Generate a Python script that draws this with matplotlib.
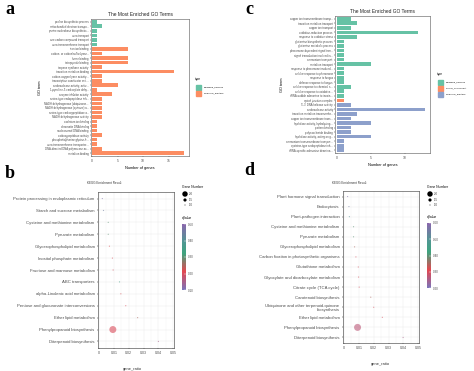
import matplotlib
matplotlib.use("Agg")
import matplotlib.pyplot as plt
import numpy as np
from matplotlib.colors import LinearSegmentedColormap, Normalize
from matplotlib.cm import ScalarMappable

plt.rcParams['font.family'] = ['Liberation Sans', 'DejaVu Sans']

W, H = 474, 371

# ---- panel a: GO terms (top to bottom) ----
a_terms = ["proline biosynthetic process", "mitochondrial electron transpo...",
           "purine nucleobase biosynthetic...", "urea transport",
           "one-carbon compound transport", "urea transmembrane transport",
           "iron ion binding", "carbon- or carbon/sulfur-lyase...", "heme binding",
           "tetrapyrrole binding", "terpene synthase activity",
           "transition metal ion binding", "carbon-oxygen lyase activity...",
           "transcription coactivator acti...", "endonuclease activity, activ...",
           "1-pyrroline-5-carboxylate dehy...", "enzyme inhibitor activity",
           "serine-type endopeptidase inh...", "NADH dehydrogenase (ubiquinone...",
           "NADH dehydrogenase (quinone) a...", "serine-type carboxypeptidase a...",
           "NADH dehydrogenase activity", "cadmium ion binding",
           "chromatin DNA binding", "nucleosomal DNA binding",
           "carboxypeptidase activity", "phosphatidylserine glycine-fr...",
           "urea transmembrane transporter...", "DNA-directed DNA polymerase ac...",
           "metal ion binding"]
a_counts = [1, 2, 1, 1, 1, 1, 7, 2, 7, 7, 2, 16, 2, 2, 5, 1, 4, 2, 2, 2, 2, 2,
            1, 1, 1, 2, 1, 1, 2, 18]
a_types = ["biological_process"] * 6 + ["molecular_function"] * 24

# ---- panel c: GO terms ----
c_terms = ["copper ion transmembrane transp...", "transition metal ion transport",
           "copper ion transport", "oxidation-reduction process",
           "response to oxidative stress", "glutamine biosynthetic process",
           "glutamine metabolic process", "pheromone-dependent signal tran...",
           "signal transduction involved in...", "ammonium transport",
           "metal ion transport", "response to pheromone involved...",
           "cellular response to pheromone", "response to fungus",
           "defense response to fungus", "cellular response to chemical s...",
           "cellular response to oxidative...", "tRNA wobble adenosine to inosin...",
           "apical junction complex", "5'-3' DNA helicase activity",
           "endonuclease activity", "transition metal ion transmembr...",
           "copper ion transmembrane trans...", "hydrolase activity, hydrolyzing...",
           "pattern binding", "polysaccharide binding",
           "hydrolase activity, acting on g...", "ammonium transmembrane transpor...",
           "cysteine-type endopeptidase inh...", "tRNA-specific adenosine deamina..."]
c_counts = [2, 3, 2, 12, 3, 1, 1, 1, 1, 1, 5, 1, 1, 1, 1, 2, 1, 1, 1, 2, 13, 3,
            2, 5, 2, 2, 5, 1, 1, 1]
c_types = (["biological_process"] * 18 + ["cellular_component"]
           + ["molecular_function"] * 11)

type_colors = {"biological_process": "#66c2a5", "cellular_component": "#fc8d62",
               "molecular_function": "#8da0cb"}
a_colors = {"biological_process": "#66c2a5", "molecular_function": "#fc8d62"}

# ---- panel b: KEGG ----
b_paths = ["Protein processing in endoplasmic reticulum", "Starch and sucrose metabolism",
           "Cysteine and methionine metabolism", "Pyruvate metabolism",
           "Glycerophospholipid metabolism", "Inositol phosphate metabolism",
           "Fructose and mannose metabolism", "ABC transporters",
           "alpha-Linolenic acid metabolism", "Pentose and glucuronate interconversions",
           "Ether lipid metabolism", "Phenylpropanoid biosynthesis",
           "Diterpenoid biosynthesis"]
b_ratio = [0.0022, 0.003, 0.0062, 0.0062, 0.007, 0.009, 0.0095, 0.0138, 0.0147,
           0.018, 0.026, 0.0093, 0.040]
b_genes = [1, 1, 1, 1, 1, 1, 1, 1, 1, 1, 1, 2, 1]
b_q = [0.48, 0.45, 0.3, 0.3, 0.22, 0.2, 0.2, 0.35, 0.22, 0.2, 0.25, 0.2, 0.15]

# ---- panel d: KEGG ----
d_paths = ["Plant hormone signal transduction", "Endocytosis",
           "Plant-pathogen interaction", "Cysteine and methionine metabolism",
           "Pyruvate metabolism", "Glycerophospholipid metabolism",
           "Carbon fixation in photosynthetic organisms", "Glutathione metabolism",
           "Glyoxylate and dicarboxylate metabolism", "Citrate cycle (TCA cycle)",
           "Carotenoid biosynthesis",
           "Ubiquinone and other terpenoid-quinone\nbiosynthesis",
           "Ether lipid metabolism", "Phenylpropanoid biosynthesis",
           "Diterpenoid biosynthesis"]
d_ratio = [0.0024, 0.0033, 0.0036, 0.0064, 0.0064, 0.0071, 0.008, 0.0096, 0.0098,
           0.0102, 0.018, 0.020, 0.0258, 0.0091, 0.0398]
d_genes = [1, 1, 1, 1, 1, 1, 1, 1, 1, 1, 1, 1, 1, 2, 1]
d_q = [0.58, 0.55, 0.5, 0.4, 0.4, 0.35, 0.3, 0.3, 0.3, 0.3, 0.35, 0.3, 0.3, 0.27, 0.25]

qcmap = LinearSegmentedColormap.from_list(
    "q", [(0.0, "#7b74ba"), (0.28, "#e4474f"), (0.55, "#3fa47e"),
          (0.72, "#4f9892"), (1.0, "#8a67ad")])


def box(x0, y0, x1, y1):
    return [x0 / W, 1 - y1 / H, (x1 - x0) / W, (y1 - y0) / H]


def size_of(n):
    d = 1.2 + (np.asarray(n) - 1) * 5.8
    return (d * 0.72) ** 2


fig = plt.figure(figsize=(W / 100, H / 100), dpi=100)
fig.patch.set_facecolor("white")


def bar_panel(rect, terms, counts, types, colors, xlim, title, lsize):
    ax = fig.add_axes(box(*rect))
    n = len(terms)
    y = np.arange(n)[::-1]
    ax.barh(y, counts, height=0.8, color=[colors[t] for t in types])
    ax.set_ylim(-0.6, n - 0.4)
    ax.set_xlim(*xlim)
    ax.set_yticks(y)
    ax.set_yticklabels(terms, fontsize=lsize, color="#4d4d4d")
    ax.set_xticks([0, 5, 10, 15] if xlim[1] > 15 else [0, 5, 10])
    ax.tick_params(axis="x", labelsize=2.4, colors="#4d4d4d", length=1, width=0.3, pad=1)
    ax.tick_params(axis="y", length=1, width=0.3, pad=0.6)
    for s in ax.spines.values():
        s.set_color("#555555")
        s.set_linewidth(0.4)
    ax.set_title(title, fontsize=3.5, pad=2, color="#222222")
    ax.set_xlabel("Number of genes", fontsize=2.8, labelpad=2.5)
    ax.set_ylabel("GO term", fontsize=2.8, labelpad=1.5)
    return ax


bar_panel((91, 19, 189, 156), a_terms, a_counts, a_types, a_colors, (-0.2, 19),
          "The Most Enriched GO Terms", 2.0)
bar_panel((335, 16, 430, 153), c_terms, c_counts, c_types, type_colors, (-0.3, 13.7),
          "The Most Enriched GO Terms", 2.0)


def type_legend(x, y, labels, colors):
    fig.text(x / W, 1 - y / H, "type", fontsize=2.3, va="center")
    for i, lab in enumerate(labels):
        yy = y + 8.5 + i * 6
        fig.patches.append(plt.Rectangle(((x + 1) / W, 1 - (yy + 2.6) / H), 5 / W, 5.2 / H,
                                         transform=fig.transFigure, color=colors[lab],
                                         figure=fig))
        fig.text((x + 9) / W, 1 - yy / H, lab, fontsize=1.7, va="center")


type_legend(195, 79, ["biological_process", "molecular_function"], a_colors)
type_legend(437, 74, ["biological_process", "cellular_component", "molecular_function"],
            type_colors)


def dot_panel(rect, paths, ratio, genes, q, qlim, cbar_rect, leg_xy, title_xy, xlab_xy):
    ax = fig.add_axes(box(*rect))
    n = len(paths)
    y = np.arange(n)[::-1]
    norm = Normalize(*qlim)
    ax.scatter(ratio, y, s=size_of(genes), c=q, cmap=qcmap, norm=norm,
               alpha=0.6, edgecolors="none", zorder=3)
    ax.set_ylim(-0.55, n - 0.45)
    ax.set_xlim(-0.0007, 0.0505)
    ax.set_yticks(y)
    ax.set_yticklabels(paths, fontsize=3.05, color="#4d4d4d", linespacing=1.1)
    ax.set_xticks([0, 0.01, 0.02, 0.03, 0.04, 0.05])
    ax.set_xticklabels(["0", "0.01", "0.02", "0.03", "0.04", "0.05"])
    ax.set_xticks([0.005, 0.015, 0.025, 0.035, 0.045], minor=True)
    ax.tick_params(axis="x", labelsize=2.6, colors="#4d4d4d", length=1, width=0.3, pad=1)
    ax.tick_params(axis="x", which="minor", length=0)
    ax.tick_params(axis="y", length=1, width=0.3, pad=1.5)
    ax.grid(True, which="major", color="#ebebeb", linewidth=0.35)
    ax.grid(True, which="minor", axis="x", color="#f3f3f3", linewidth=0.25)
    ax.set_axisbelow(True)
    for s in ax.spines.values():
        s.set_color("#333333")
        s.set_linewidth(0.4)
    fig.text(title_xy[0] / W, 1 - title_xy[1] / H, "KEGG Enrichment Result",
             fontsize=2.2, ha="center", va="center", color="#333333")
    fig.text(xlab_xy[0] / W, 1 - xlab_xy[1] / H, "gene_ratio",
             fontsize=2.9, ha="center", va="center", color="#333333")

    # Gene Number legend
    lx, ly = leg_xy
    fig.text(lx / W, 1 - ly / H, "Gene Number", fontsize=2.4, va="center")
    lax = fig.add_axes(box(lx, ly + 3, lx + 30, ly + 21))
    lax.set_xlim(0, 30)
    lax.set_ylim(18, 0)
    lax.axis("off")
    for yy, g in zip([4, 10, 15], [2.0, 1.5, 1.0]):
        lax.scatter([3], [yy], s=size_of(g) * 0.6, color="black", edgecolors="none")
        lax.text(7, yy, f"{g:.1f}", fontsize=2.1, va="center", color="#333333")

    # qValue colorbar
    fig.text(cbar_rect[0] / W, 1 - (cbar_rect[1] - 6) / H, "qValue", fontsize=2.4,
             va="center")
    cax = fig.add_axes(box(*cbar_rect))
    cb = fig.colorbar(ScalarMappable(norm=norm, cmap=qcmap), cax=cax)
    cb.outline.set_visible(False)
    cb.set_alpha(0.7)
    ticks = np.round(np.arange(qlim[0], qlim[1] + 0.001, 0.1), 2)
    cb.set_ticks(ticks)
    cb.set_ticklabels([f"{t:.2f}" for t in ticks])
    cax.tick_params(labelsize=2.2, length=1.5, width=0.3, colors="white",
                    labelcolor="#4d4d4d", pad=1.5, direction="in")
    return ax


dot_panel((98, 192, 174, 348), b_paths, b_ratio, b_genes, b_q, (0.1, 0.5),
          (182, 224, 186, 290), (182, 187), (104, 183), (132, 369))
dot_panel((343, 191, 419, 343), d_paths, d_ratio, d_genes, d_q, (0.2, 0.6),
          (427, 223, 431, 288), (427, 187), (349, 183), (380, 364))

# panel letters
for lab, x, y in [("a", 10, 9), ("b", 10, 173), ("c", 249, 10), ("d", 249, 171)]:
    fig.text(x / W, 1 - y / H, lab, fontsize=13, fontweight="bold",
             family="Liberation Serif", ha="center", va="center")

fig.savefig("out.png", dpi=100)
